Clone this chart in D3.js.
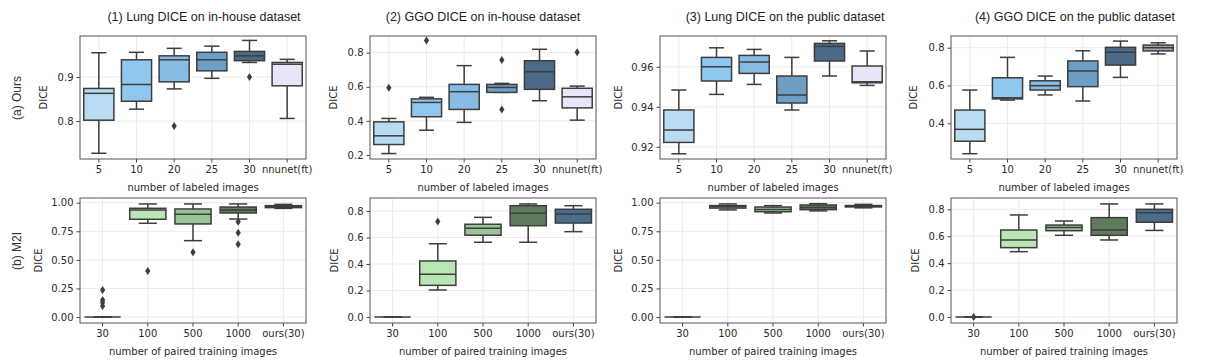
<!DOCTYPE html>
<html>
<head>
<meta charset="utf-8">
<script src="https://cdn.jsdelivr.net/npm/d3@7"></script>
<style>
  body { margin: 0; background: #fff; }
  svg text { font-family: "DejaVu Sans", sans-serif; }
</style>
</head>
<body>
<div id="chart"></div>
<script>
// categories
const topCats = ["5", "10", "20", "25", "30", "nnunet(ft)"];
const bottomCats = ["30", "100", "500", "1000", "ours(30)"];

// box stats: [lower whisker, q1, median, q3, upper whisker]
const lungInHouse = [
  [0.727, 0.802, 0.863, 0.874, 0.955],
  [0.827, 0.845, 0.883, 0.939, 0.956],
  [0.873, 0.889, 0.939, 0.948, 0.965],
  [0.897, 0.914, 0.939, 0.956, 0.970],
  [0.933, 0.937, 0.948, 0.958, 0.983],
  [0.806, 0.880, 0.929, 0.933, 0.940]
];
const lungInHouseOut = [[], [], [0.789], [], [0.900], []];

const ggoInHouse = [
  [0.208, 0.261, 0.312, 0.394, 0.414],
  [0.345, 0.424, 0.508, 0.529, 0.538],
  [0.391, 0.467, 0.571, 0.614, 0.724],
  [0.567, 0.567, 0.596, 0.614, 0.620],
  [0.518, 0.585, 0.688, 0.753, 0.820],
  [0.404, 0.476, 0.541, 0.591, 0.604]
];
const ggoInHouseOut = [[0.594], [0.871], [], [0.757, 0.467], [], [0.802]];

const lungPublic = [
  [0.9165, 0.9222, 0.9284, 0.9384, 0.9484],
  [0.9462, 0.9529, 0.9600, 0.9647, 0.9695],
  [0.9512, 0.9567, 0.9624, 0.9657, 0.9687],
  [0.9384, 0.9419, 0.9459, 0.9554, 0.9647],
  [0.9554, 0.9629, 0.9702, 0.9717, 0.9730],
  [0.9507, 0.9520, 0.9525, 0.9604, 0.9679]
];
const lungPublicOut = [[], [], [], [], [], []];

const ggoPublic = [
  [0.239, 0.305, 0.368, 0.470, 0.576],
  [0.523, 0.529, 0.535, 0.641, 0.749],
  [0.550, 0.576, 0.599, 0.625, 0.650],
  [0.518, 0.594, 0.677, 0.730, 0.784],
  [0.643, 0.708, 0.776, 0.802, 0.835],
  [0.767, 0.783, 0.800, 0.814, 0.826]
];
const ggoPublicOut = [[], [], [], [], [], []];

const lungInHouseM2I = [
  [0, 0, 0, 0, 0],
  [0.820, 0.855, 0.935, 0.951, 0.989],
  [0.668, 0.814, 0.898, 0.945, 0.989],
  [0.857, 0.910, 0.936, 0.962, 0.989],
  [0.950, 0.957, 0.965, 0.974, 0.985]
];
const lungInHouseM2IOut = [[0.236, 0.149, 0.128, 0.096], [0.402], [0.566], [0.834, 0.738, 0.636], []];

const ggoInHouseM2I = [
  [0, 0, 0, 0, 0],
  [0.204, 0.239, 0.322, 0.423, 0.553],
  [0.564, 0.617, 0.669, 0.700, 0.752],
  [0.564, 0.689, 0.783, 0.840, 0.853],
  [0.644, 0.709, 0.777, 0.813, 0.840]
];
const ggoInHouseM2IOut = [[], [0.720], [], [], []];

const lungPublicM2I = [
  [0, 0, 0, 0, 0],
  [0.937, 0.953, 0.965, 0.975, 0.989],
  [0.910, 0.921, 0.940, 0.962, 0.974],
  [0.928, 0.939, 0.958, 0.980, 0.991],
  [0.955, 0.963, 0.970, 0.975, 0.985]
];
const lungPublicM2IOut = [[], [], [], [], []];

const ggoPublicM2I = [
  [0, 0, 0, 0, 0],
  [0.485, 0.515, 0.572, 0.646, 0.758],
  [0.607, 0.641, 0.664, 0.683, 0.713],
  [0.572, 0.607, 0.646, 0.738, 0.840],
  [0.643, 0.704, 0.775, 0.800, 0.840]
];
const ggoPublicM2IOut = [[0], [], [], [], []];

// titles and tick values
const titles = [
  "(1) Lung DICE on in-house dataset",
  "(2)  GGO DICE on in-house dataset",
  "(3) Lung DICE on the public dataset",
  "(4) GGO DICE on the public dataset"
];
const rowLabels = ["(a) Ours", "(b) M2I"];
const yDomains = [
  [0.714, 0.993], [0.176, 0.898], [0.9139, 0.9754], [0.211, 0.862],
  [-0.052, 1.041], [-0.045, 0.898], [-0.052, 1.041], [-0.045, 0.884]
];
const yTicks = [
  [0.8, 0.9], [0.2, 0.4, 0.6, 0.8], [0.92, 0.94, 0.96], [0.4, 0.6, 0.8],
  [0, 0.25, 0.5, 0.75, 1.0], [0, 0.2, 0.4, 0.6, 0.8], [0, 0.25, 0.5, 0.75, 1.0], [0, 0.2, 0.4, 0.6, 0.8]
];
const yFormats = [".1f", ".1f", ".2f", ".1f", ".2f", ".1f", ".2f", ".1f"];

const topColors = ["#b9dcf3", "#90c7ee", "#86bbe2", "#6d9ec6", "#4a6a88", "#e6e6f8"];
const topColorsP4 = ["#b9dcf3", "#90c7ee", "#86bbe2", "#6d9ec6", "#4a6a88", "#a4a7b3"];
const bottomColors = ["#b8e6b5", "#b8e6b5", "#99c496", "#5f7d5c", "#4b6d8c"];

(function () {
  const W = 1207, H = 363;
  const lefts = [80, 370, 660, 951];
  const pw = 226;
  const rows = [{ top: 36, bottom: 159 }, { top: 198, bottom: 323 }];
  const lineColor = "#3d3d3d";

  const svg = d3.select("#chart").append("svg")
    .attr("width", W).attr("height", H);

  const panels = [
    { stats: lungInHouse, out: lungInHouseOut, cats: topCats, colors: topColors },
    { stats: ggoInHouse, out: ggoInHouseOut, cats: topCats, colors: topColors },
    { stats: lungPublic, out: lungPublicOut, cats: topCats, colors: topColors },
    { stats: ggoPublic, out: ggoPublicOut, cats: topCats, colors: topColorsP4 },
    { stats: lungInHouseM2I, out: lungInHouseM2IOut, cats: bottomCats, colors: bottomColors },
    { stats: ggoInHouseM2I, out: ggoInHouseM2IOut, cats: bottomCats, colors: bottomColors },
    { stats: lungPublicM2I, out: lungPublicM2IOut, cats: bottomCats, colors: bottomColors },
    { stats: ggoPublicM2I, out: ggoPublicM2IOut, cats: bottomCats, colors: bottomColors }
  ];

  const diamond = "M0,-4L2.6,0L0,4L-2.6,0Z";

  panels.forEach((p, i) => {
    const row = Math.floor(i / 4), col = i % 4;
    const x0 = lefts[col], r = rows[row];
    const g = svg.append("g").attr("transform", `translate(${x0},${r.top})`);
    const h = r.bottom - r.top;

    const x = d3.scaleBand().domain(p.cats).range([0, pw]).padding(0);
    const y = d3.scaleLinear().domain(yDomains[i]).range([h, 0]);
    const bw = x.bandwidth() * 0.8;
    const cx = d => x(d) + x.bandwidth() / 2;

    // grid
    g.selectAll(".gy").data(yTicks[i]).join("line")
      .attr("x1", 0).attr("x2", pw)
      .attr("y1", d => y(d)).attr("y2", d => y(d))
      .attr("stroke", "#ebebeb").attr("stroke-width", 1);
    g.selectAll(".gx").data(p.cats).join("line")
      .attr("x1", d => cx(d)).attr("x2", d => cx(d))
      .attr("y1", 0).attr("y2", h)
      .attr("stroke", "#ebebeb").attr("stroke-width", 1);

    // axes
    const ya = g.append("g")
      .call(d3.axisLeft(y).tickValues(yTicks[i]).tickFormat(d3.format(yFormats[i])).tickSize(3.5).tickPadding(3));
    const xa = g.append("g").attr("transform", `translate(0,${h})`)
      .call(d3.axisBottom(x).tickSize(3.5).tickPadding(3));
    [ya, xa].forEach(a => {
      a.select(".domain").remove();
      a.selectAll("line").attr("stroke", "#444");
      a.selectAll("text").attr("fill", "#2a2a2a")
        .style("font-family", "DejaVu Sans").style("font-size", "10px");
    });

    // boxes
    p.cats.forEach((c, k) => {
      const s = p.stats[k];
      const m = cx(c);
      const bx = g.append("g");
      bx.append("line").attr("x1", m).attr("x2", m)
        .attr("y1", y(s[0])).attr("y2", y(s[1]))
        .attr("stroke", lineColor).attr("stroke-width", 1.5);
      bx.append("line").attr("x1", m).attr("x2", m)
        .attr("y1", y(s[3])).attr("y2", y(s[4]))
        .attr("stroke", lineColor).attr("stroke-width", 1.5);
      [s[0], s[4]].forEach(v => {
        bx.append("line").attr("x1", m - bw / 4).attr("x2", m + bw / 4)
          .attr("y1", y(v)).attr("y2", y(v))
          .attr("stroke", lineColor).attr("stroke-width", 1.5);
      });
      bx.append("rect")
        .attr("x", m - bw / 2).attr("width", bw)
        .attr("y", y(s[3])).attr("height", Math.max(0, y(s[1]) - y(s[3])))
        .attr("fill", p.colors[k])
        .attr("stroke", lineColor).attr("stroke-width", 1.5);
      bx.append("line").attr("x1", m - bw / 2).attr("x2", m + bw / 2)
        .attr("y1", y(s[2])).attr("y2", y(s[2]))
        .attr("stroke", lineColor).attr("stroke-width", 1.5);
      p.out[k].forEach(v => {
        bx.append("path").attr("d", diamond)
          .attr("transform", `translate(${m},${y(v)})`)
          .attr("fill", lineColor);
      });
    });

    // frame
    g.append("rect").attr("x", 0).attr("y", 0).attr("width", pw).attr("height", h)
      .attr("fill", "none").attr("stroke", "#555").attr("stroke-width", 1);

    // y label
    const ylx = [43, 333, 618, 913][col] - x0 + (row === 1 ? [-5, 1, 0, 2][col] : 0);
    g.append("text")
      .attr("transform", `translate(${ylx},${h / 2}) rotate(-90)`)
      .attr("text-anchor", "middle").attr("dy", "0.35em")
      .style("font-size", "10px").attr("fill", "#2a2a2a")
      .text("DICE");

    // x label
    g.append("text")
      .attr("x", pw / 2).attr("y", h + 32)
      .attr("text-anchor", "middle")
      .style("font-size", "10px").attr("fill", "#2a2a2a")
      .text(row === 0 ? "number of labeled images" : "number of paired training images");
  });

  // column titles
  const titleX = [204, 483, 785, 1075];
  svg.selectAll(".title").data(titles).join("text")
    .attr("x", (d, i) => titleX[i]).attr("y", 21)
    .attr("text-anchor", "middle")
    .style("font-family", "Liberation Sans, Arial, sans-serif")
    .style("font-size", "12.5px").attr("fill", "#222")
    .text(d => d);

  // row labels
  const rowY = [98, 251];
  svg.selectAll(".rowlab").data(rowLabels).join("text")
    .attr("transform", (d, i) => `translate(17,${rowY[i]}) rotate(-90)`)
    .attr("text-anchor", "middle").attr("dy", "0.35em")
    .style("font-family", "Liberation Sans, Arial, sans-serif")
    .style("font-size", "12px").attr("fill", "#333")
    .text(d => d);
})();
</script>
</body>
</html>
